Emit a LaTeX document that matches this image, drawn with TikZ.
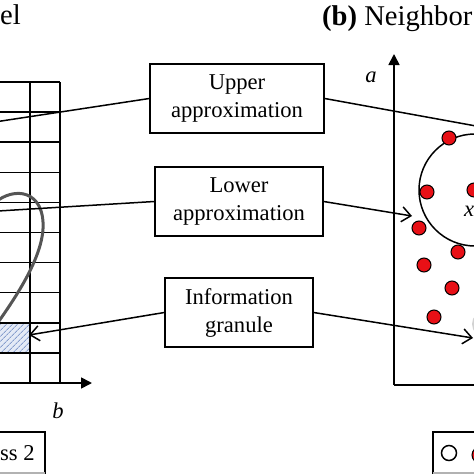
\documentclass[tikz,border=0pt]{standalone}
\usepackage{fontspec}
\setmainfont{Liberation Serif}
\usetikzlibrary{arrows.meta,patterns.meta}
\definecolor{dotred}{RGB}{232,16,22}
\definecolor{hatchc}{RGB}{135,158,205}
\definecolor{hatchbg}{RGB}{228,234,246}
\definecolor{curvec}{RGB}{85,85,85}
\begin{document}
\begin{tikzpicture}[x=1pt,y=-1pt,
  lbl/.style={draw, line width=1.4pt, align=center, minimum height=69pt, inner sep=0pt, font=\fontsize{22.6}{28}\selectfont},
  conn/.style={line width=1.5pt},
  tipo/.style={-{Straight Barb[length=9pt,width=15pt]}},
  gridl/.style={line width=1.5pt},
  axisl/.style={line width=1.7pt},
  dot/.style={circle, fill=dotred, draw=black, line width=1pt, minimum size=14pt, inner sep=0pt},
  lab/.style={inner sep=0pt, font=\fontsize{22.6}{28}\selectfont\itshape},
  ttl/.style={inner sep=0pt, font=\fontsize{28.6}{34}\selectfont},
  legbox/.style={draw, line width=1.4pt}
]
\useasboundingbox (0,0) rectangle (474,474);
\clip (0,0) rectangle (474,474);

% titles
\node[ttl, anchor=base west] (tA) at (0,24) {el};
\node[ttl, anchor=base west] (tB) at (322,25) {\textbf{(b)} Neighbor};

% left grid
\fill[hatchbg] (0,322.9) rectangle (30,353);
\fill[pattern={Lines[angle=45,distance=4pt,line width=1pt]}, pattern color=hatchc] (0,322.9) rectangle (30,353);
\foreach \k in {0,...,9} \draw[gridl] (0,{82+30.1*\k}) -- (60,{82+30.1*\k});
\draw[gridl] (30,82) -- (30,383);
\draw[gridl] (60,82) -- (60,383);
\coordinate (bx0) at (0,383);
\coordinate (bx1) at (92,383);
\draw[axisl, -{Triangle[length=11pt,width=11pt]}] (bx0) -- (bx1);
\node[lab] (lb) at (58,411) {b};

% curve
\draw[curvec, line width=3pt] (-10,207) .. controls (10,186) and (41,188) .. (43,222) .. controls (45,252) and (20,292) .. (-6,328);

% right axes
\coordinate (o) at (394,385);
\coordinate (ay) at (394,54);
\coordinate (ax) at (485,385);
\draw[axisl, -{Triangle[length=11pt,width=11pt]}] (o) -- (ay);
\draw[axisl] (o) -- (ax);
\node[lab] (la) at (371,77) {a};

% neighborhood circle
\node[circle, draw, line width=1.5pt, minimum size=112pt, inner sep=0pt] (nb) at (475,190) {};
\node[lab, anchor=west] (lx) at (464,211) {x};

% gray granule at right edge
\fill[gray!35] (485,324) circle (13);

% dots
\node[dot] (d1) at (449,138) {};
\node[dot] (d2) at (427,192) {};
\node[dot] (d3) at (474,190) {};
\node[dot] (d4) at (419,228) {};
\node[dot] (d5) at (458,252) {};
\node[dot] (d6) at (424,265) {};
\node[dot] (d7) at (452,288) {};
\node[dot] (d8) at (434,317) {};

% label boxes
\node[lbl, minimum width=174pt] (up) at (237,98.5) {Upper\\approximation};
\node[lbl, minimum width=168pt] (lo) at (239,201.5) {Lower\\approximation};
\node[lbl, minimum width=148pt] (ig) at (239,312.5) {Information\\granule};

% connectors
\coordinate (upL) at (-2,121.5);
\coordinate (upR) at (476,126);
\coordinate (loL) at (-2,211);
\coordinate (loR) at (412,216);
\coordinate (igL) at (29,335);
\coordinate (igR) at (473,338);
\draw[conn] (up.west) -- (upL);
\draw[conn] (up.east) -- (upR);
\draw[conn] (lo.west) -- (loL);
\draw[conn, tipo] (lo.east) -- (loR);
\draw[conn, tipo] (ig.west) -- (igL);
\draw[conn, tipo] (ig.east) -- (igR);

% legends
\draw[legbox] (-5,432) rectangle (45,480);
\node[inner sep=0pt, anchor=base west, font=\fontsize{22.6}{28}\selectfont] (c2) at (0,460) {ss 2};
\draw[legbox] (433,432) rectangle (480,480);
\node[circle, draw, line width=1.5pt, minimum size=15pt, inner sep=0pt] (lc1) at (449,453) {};
\node[dot, minimum size=16pt] (lc2) at (480,455) {};
\fill[gray!60] (-5,471.5) rectangle (45,474);
\fill[gray!60] (433,471.5) rectangle (480,474);
\end{tikzpicture}
\end{document}
